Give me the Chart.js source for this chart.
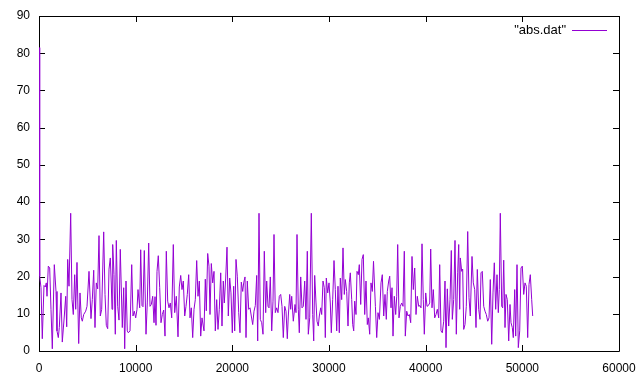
<!DOCTYPE html>
<html>
<head>
<meta charset="utf-8">
<script src="https://cdn.jsdelivr.net/npm/chart.js@4/dist/chart.umd.min.js"></script>
<style>
html,body{margin:0;padding:0;background:#fff;}
#wrap{width:640px;height:384px;}
</style>
</head>
<body>
<div id="wrap"><canvas id="c" width="640" height="384"></canvas></div>
<script>
// data
const seriesLabel = '"abs.dat"';
const xTickValues = [0, 10000, 20000, 30000, 40000, 50000, 60000];
const yTickValues = [0, 10, 20, 30, 40, 50, 60, 70, 80, 90];
const sampleX = [0,72,207,341,517,652,755,828,962,1107,1241,1376,1583,1759,1862,1997,2100,2276,2410,2617,2762,2866,2969,3104,3279,3414,3548,3693,3797,3931,4107,4241,4376,4479,4624,4831,4966,5173,5379,5514,5659,5793,5928,6072,6207,6341,6486,6693,6828,6962,7107,7242,7376,7479,7552,7624,7759,7893,7997,8141,8276,8410,8617,8762,8865,9000,9134,9238,9414,9590,9724,9859,10003,10138,10242,10417,10521,10655,10759,10893,11069,11203,11348,11483,11617,11762,11897,12000,12104,12207,12341,12486,12621,12755,12900,13035,13169,13314,13449,13583,13728,13893,14038,14204,14380,14514,14659,14793,14928,15073,15207,15341,15486,15621,15755,15900,16035,16169,16314,16449,16583,16728,16862,17069,17204,17307,17452,17586,17690,17824,17969,18104,18238,18383,18517,18652,18797,18931,19066,19169,19314,19449,19583,19728,19862,19997,20141,20245,20380,20514,20659,20793,20928,21073,21176,21311,21414,21549,21693,21828,21962,22107,22242,22376,22521,22624,22759,22893,23038,23173,23307,23452,23555,23690,23794,23928,24073,24207,24311,24445,24590,24724,24859,25004,25138,25273,25418,25552,25686,25790,25935,26038,26142,26307,26483,26587,26690,26825,26928,27073,27207,27342,27486,27621,27756,27859,28004,28169,28314,28418,28521,28656,28759,28894,28997,29142,29245,29380,29514,29618,29721,29866,30000,30135,30238,30383,30518,30652,30797,30931,31066,31169,31314,31449,31583,31687,31831,31966,32100,32204,32349,32452,32556,32659,32794,32897,33031,33135,33280,33414,33549,33694,33828,33962,34066,34211,34345,34480,34604,34800,34935,35069,35214,35380,35514,35659,35794,35928,36032,36176,36280,36414,36518,36621,36756,36900,37004,37107,37242,37376,37521,37656,37790,37894,38039,38173,38307,38452,38587,38721,38866,39000,39135,39280,39414,39518,39621,39756,39859,40004,40138,40273,40418,40521,40656,40790,40935,41069,41204,41349,41452,41587,41721,41866,42001,42104,42238,42383,42518,42652,42756,42900,43035,43169,43314,43418,43521,43583,43728,43831,43935,44070,44204,44349,44484,44618,44794,44928,45073,45207,45342,45486,45621,45725,45859,46004,46138,46273,46418,46553,46687,46832,46966,47101,47245,47380,47514,47618,47721,47866,47969,48073,48208,48311,48446,48590,48725,48828,48963,49066,49211,49314,49449,49583,49728,49863,49997,50142,50276,50411,50555,50690,50825,50969,51072];
const absValue = [81.5,20.1,17,3.3,17.6,17.2,18.3,14.7,22.8,22.3,11.2,0.6,23.2,16,5.4,3.6,6.3,15.6,2.4,9.4,14.7,6.5,24.6,17.4,37,13.8,9.8,20.5,11.2,23.8,2,15.6,8.9,8,9.8,10.7,12,21.4,8.7,13.8,21.7,6.3,18.3,16.7,31,9.4,11.2,32,15.2,6.9,6,22,25,18,11.2,28.6,20.5,4.5,29.7,12,8.3,27.3,6.3,17,0.6,18.8,5.4,4.9,5.4,23.2,9.4,10.7,8.9,11.2,16.5,11.6,27.2,12.2,11.9,27,4.5,12.9,29,12,12.5,14.7,7.6,14.6,6.9,21.4,25.6,17,7.6,9.8,11,4,26.8,13.4,11.6,12.9,8.9,28.6,10.3,14.7,3.8,17.2,20.3,16.5,18.8,9.4,12,15.2,20.5,8.9,11.6,3.6,11.2,13.8,24.3,14.7,18.8,4,8.9,5.4,19.3,10.8,26.2,22.8,9.8,23.5,18.3,21.4,5.4,13.8,5.8,11.2,21,6.7,18.8,12.9,19.6,27.9,9.4,19.6,15.6,4.9,17.4,5.4,24.6,20.1,10.3,4.9,18.5,16,18.3,19.9,3.6,18.8,11.2,11.6,9.4,7.1,10.7,12.2,20.3,2.7,37,8.5,7.6,4.5,26.8,10.3,18.8,12,11.6,19.9,5.4,13.4,31.3,10.3,11.6,10.3,14.7,15.2,12,3.6,12,10.7,3.3,9.4,15.2,11.2,14.7,8,12.5,10.3,31.3,11.2,4.9,19.9,11.6,12,18.8,8.5,26.8,4.5,8.9,37,9.8,2.7,20.3,12.9,8,6.7,9.4,11.6,9.8,18.8,17,3.6,19.6,15.6,18.3,12.9,4.9,13.8,24.3,16.5,5.4,17.4,4.9,19.6,13.8,27.7,15.2,19.2,16,6.7,18.3,21,13.8,7.1,5.4,13.4,9.8,21.4,20.5,23.2,12.5,24.6,25.9,9.8,18.8,7.1,8.9,4.5,18.3,16,24.1,12,3.6,10.3,8.5,18.3,20.5,9.4,15.2,8.5,16,18.8,20.1,11.6,17,4,14.7,9.8,14.7,28.6,8.9,12,12.9,12,26.8,4,10.7,9.4,9.8,7.6,25.4,16.5,22.3,9.8,14.7,12,12.2,11.6,28.8,13.8,4.5,15.6,12,12.2,12.9,27.4,11.6,16.5,8.9,9.8,11.2,8.9,23.2,5.4,4.9,8,18.8,0.9,16.7,6.7,13.8,27,8.5,13.8,29.7,4.5,21,28.6,11.2,25,21.4,22,5.8,7.1,12,32.1,14.3,9.4,25.4,18.3,16.5,6.3,21.9,11.2,8.5,21,21.4,12,10.7,9.8,8,8.9,19.2,1.8,15.6,23.7,11.2,20.5,10.3,16.5,37,12,11.6,24.4,6.3,15.2,13.8,2.7,12.5,7.6,6.3,3.6,16.5,4,23.2,0.9,5.4,22.3,22.8,15.2,18.3,17.4,3.6,17.9,20.5,13.8,9.4];

const LINE_COLOR = '#9400d3';
const FONT = '"Liberation Sans", Arial, sans-serif';

const points = sampleX.map((x, i) => ({x: x, y: absValue[i]}));

const framePlugin = {
  id: 'gnuframe',
  beforeDatasetsDraw(chart) {
    const {ctx, chartArea: a, scales} = chart;
    ctx.save();
    ctx.strokeStyle = '#000';
    ctx.lineWidth = 1;
    ctx.beginPath();
    const tl = 6;
    xTickValues.forEach(v => {
      const px = Math.round(scales.x.getPixelForValue(v)) + 0.5;
      ctx.moveTo(px, a.bottom); ctx.lineTo(px, a.bottom - tl);
      ctx.moveTo(px, a.top); ctx.lineTo(px, a.top + tl);
    });
    yTickValues.forEach(v => {
      const py = Math.round(scales.y.getPixelForValue(v)) + 0.5;
      ctx.moveTo(a.left, py); ctx.lineTo(a.left + tl, py);
      ctx.moveTo(a.right, py); ctx.lineTo(a.right - tl, py);
    });
    ctx.stroke();
    ctx.beginPath();
    ctx.rect(Math.round(a.left) + 0.5, Math.round(a.top) + 0.5, Math.round(a.right - a.left), Math.round(a.bottom - a.top));
    ctx.stroke();
    ctx.restore();
  },
  afterDraw(chart) {
    const {ctx, chartArea: a} = chart;
    const ds = chart.data.datasets[0];
    ctx.save();
    ctx.font = '13px ' + FONT;
    ctx.fillStyle = '#000';
    ctx.textAlign = 'right';
    ctx.textBaseline = 'middle';
    const ly = a.top + 14;
    const lx = a.right - 53;
    ctx.fillText(ds.label, lx, ly);
    ctx.strokeStyle = ds.borderColor;
    ctx.lineWidth = 1;
    ctx.beginPath();
    ctx.moveTo(lx + 6, Math.round(ly) + 0.5);
    ctx.lineTo(lx + 41, Math.round(ly) + 0.5);
    ctx.stroke();
    ctx.restore();
  }
};

new Chart(document.getElementById('c'), {
  type: 'line',
  data: {
    datasets: [{
      label: seriesLabel,
      data: points,
      borderColor: LINE_COLOR,
      borderWidth: 1,
      pointRadius: 0,
      tension: 0,
      fill: false
    }]
  },
  options: {
    responsive: false,
    animation: false,
    devicePixelRatio: 1,
    layout: {padding: {top: 16, right: 21, left: 0, bottom: 0}},
    plugins: {legend: {display: false}, tooltip: {enabled: false}},
    scales: {
      x: {
        type: 'linear',
        min: 0, max: 60000,
        afterBuildTicks(s) { s.ticks = xTickValues.map(v => ({value: v})); },
        afterFit(s) { s.height = 33; s.paddingLeft = 0; s.paddingRight = 0; },
        grid: {display: false, drawTicks: false},
        border: {display: false},
        ticks: {
          padding: 10,
          color: '#000',
          font: {family: FONT, size: 12},
          maxRotation: 0,
          autoSkip: false,
          callback: v => String(v)
        }
      },
      y: {
        type: 'linear',
        min: 0, max: 90,
        afterBuildTicks(s) { s.ticks = yTickValues.map(v => ({value: v})); },
        afterFit(s) { s.width = 39; s.paddingTop = 0; s.paddingBottom = 0; },
        grid: {display: false, drawTicks: false},
        border: {display: false},
        ticks: {
          padding: 9,
          color: '#000',
          font: {family: FONT, size: 12},
          autoSkip: false,
          callback: v => String(v)
        }
      }
    }
  },
  plugins: [framePlugin]
});
</script>
</body>
</html>
